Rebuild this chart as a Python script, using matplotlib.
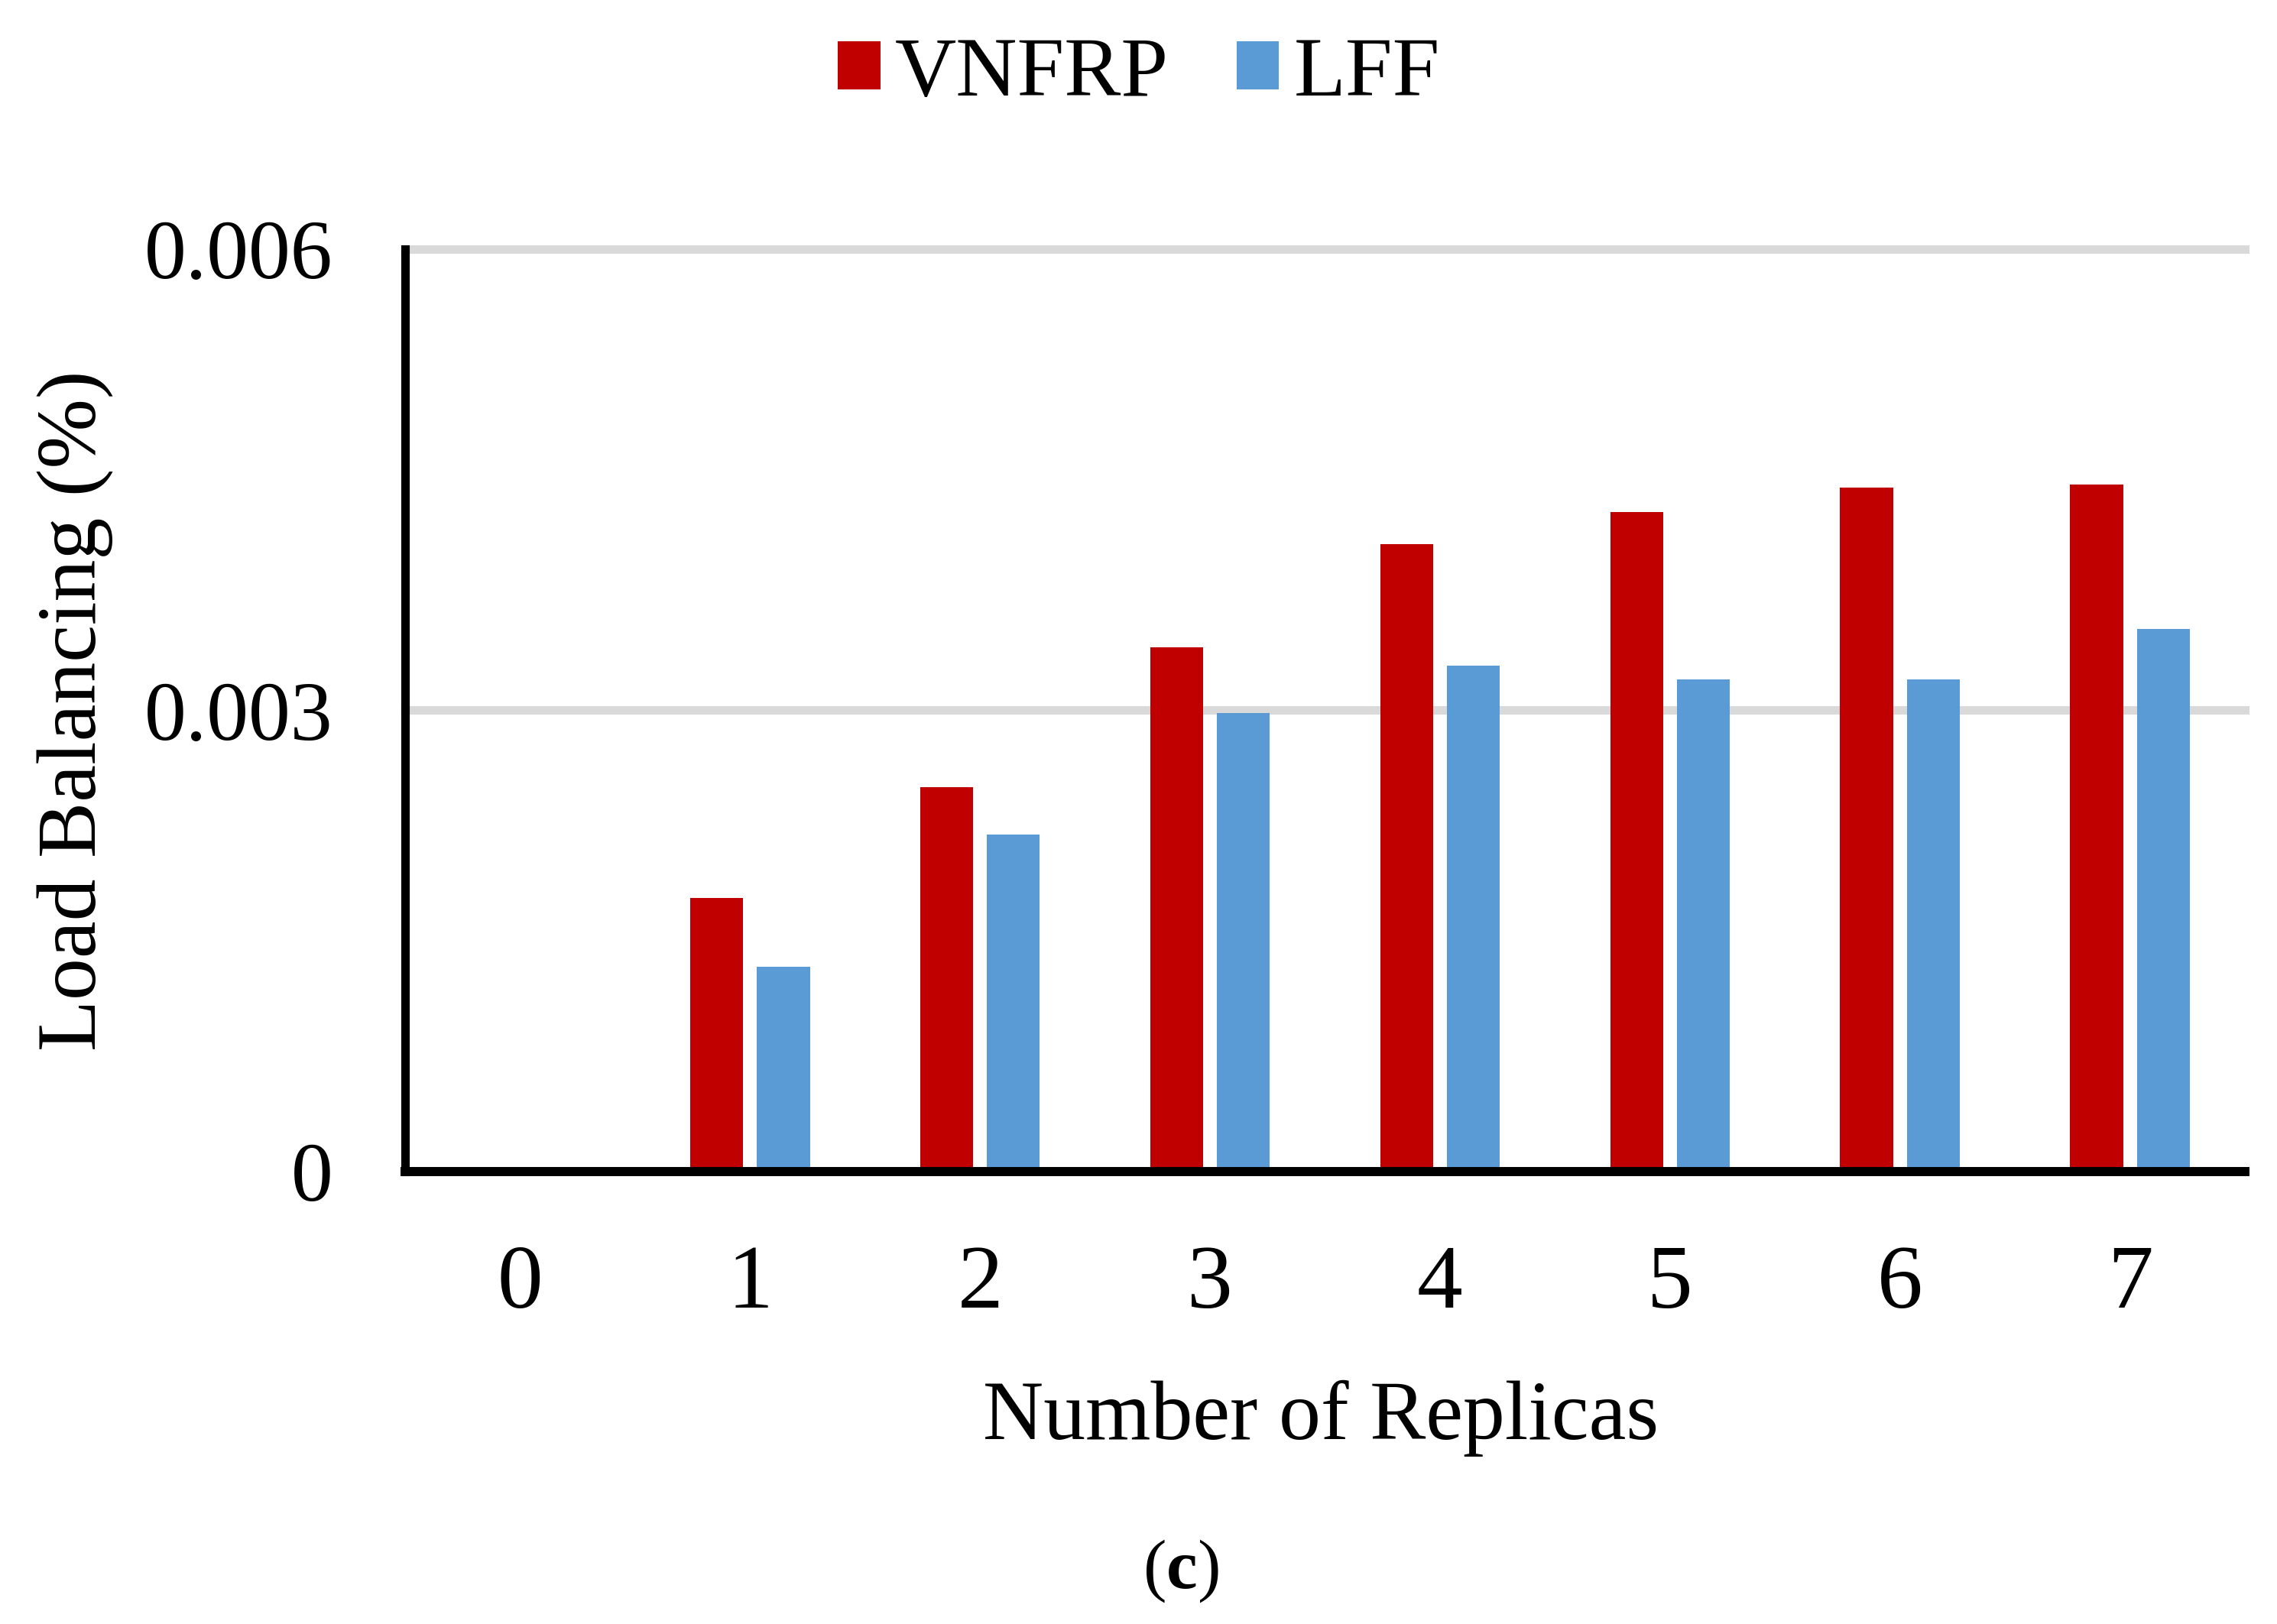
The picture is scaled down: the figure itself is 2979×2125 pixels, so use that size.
import numpy as np
import matplotlib
matplotlib.use("Agg")
import matplotlib.pyplot as plt

plt.rcParams["font.family"] = ["Liberation Serif", "DejaVu Serif"]
plt.rcParams["mathtext.fontset"] = "custom"
plt.rcParams["mathtext.rm"] = "Liberation Serif"
plt.rcParams["mathtext.bf"] = "Liberation Serif:bold"

# data
replicas = ["0", "1", "2", "3", "4", "5", "6", "7"]
vnfrp = [0.0, 0.00178, 0.00250, 0.00341, 0.00408, 0.00429, 0.00445, 0.00447]
lff = [0.0, 0.00133, 0.00219, 0.00298, 0.00329, 0.00320, 0.00320, 0.00353]
yticks = [0, 0.003, 0.006]
ytick_labels = ["0", "0.003", "0.006"]

RED = "#C00000"
BLUE = "#5B9BD5"
GRID = "#D9D9D9"

fig = plt.figure(figsize=(29.79, 21.25), dpi=100)
ax = fig.add_axes([0.1779, 0.2786, 0.8080, 0.5680])

x = np.arange(len(replicas))
w = 0.23
ax.bar(x - 0.145, vnfrp, w, color=RED, label="VNFRP", zorder=3)
ax.bar(x + 0.145, lff, w, color=BLUE, label="LFF", zorder=3)

ax.set_xlim(-0.5, 7.5)
ax.set_ylim(0, 0.006)

for yv in yticks[1:]:
    ax.axhline(yv, color=GRID, lw=8, zorder=1, clip_on=False)

for s in ["top", "right"]:
    ax.spines[s].set_visible(False)
ax.spines["left"].set_linewidth(8)
ax.spines["bottom"].set_linewidth(8.6)
ax.spines["bottom"].set_zorder(4)

ax.set_xticks(x)
ax.set_xticklabels(replicas, fontsize=86)
ax.set_yticks(yticks)
ax.set_yticklabels(ytick_labels, fontsize=79)
ax.tick_params(axis="both", length=0)
ax.tick_params(axis="x", pad=69)
ax.tick_params(axis="y", pad=68)

fig.text(0.0332, 0.5624, "Load Balancing (%)", rotation=90, fontsize=79,
         ha="center", va="center")
fig.text(0.5800, 1 - 1883 / 2125, "Number of Replicas", fontsize=79,
         ha="center", va="baseline")
fig.text(1545 / 2979, 1 - 2078 / 2125, r"($\mathbf{c}$)", fontsize=66,
         ha="center", va="baseline")

fig.legend(loc="center", bbox_to_anchor=(1490 / 2979, 1 - 98 / 2125),
           ncol=2, frameon=False, fontsize=80, handlelength=0.5,
           handleheight=0.5, handletextpad=0.17, columnspacing=0.8,
           borderaxespad=0, borderpad=0)

fig.savefig("out.png", dpi=100, facecolor="white")
